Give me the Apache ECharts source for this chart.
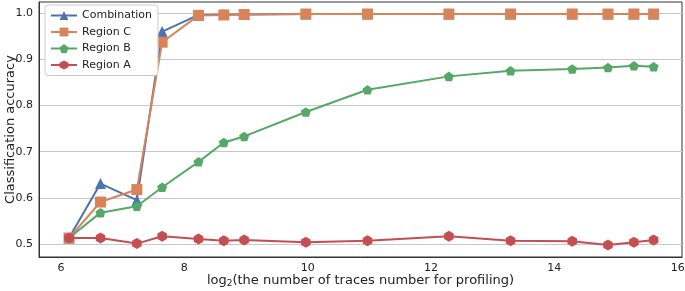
<!DOCTYPE html>
<html>
<head>
<meta charset="utf-8">
<script src="https://cdn.jsdelivr.net/npm/echarts@6/dist/echarts.min.js"></script>
<style>
html,body{margin:0;padding:0;background:#fff;}
#chart{width:685px;height:291px;}
</style>
</head>
<body>
<div id="chart"></div>
<script>
// x = log2(number of traces)
var xs = [6.13, 6.64, 7.23, 7.64, 8.23, 8.64, 8.97, 9.97, 10.97, 12.29, 13.29, 14.29, 14.87, 15.29, 15.61];

var combination = [0.513, 0.631, 0.595, 0.960, 0.996, 0.997, 0.997, 0.998, 0.998, 0.998, 0.998, 0.998, 0.998, 0.998, 0.998];
var regionC     = [0.513, 0.591, 0.618, 0.937, 0.995, 0.996, 0.997, 0.998, 0.998, 0.998, 0.998, 0.998, 0.998, 0.998, 0.998];
var regionB     = [0.513, 0.568, 0.582, 0.623, 0.678, 0.720, 0.733, 0.786, 0.834, 0.863, 0.875, 0.879, 0.882, 0.886, 0.884];
var regionA     = [0.513, 0.513, 0.501, 0.517, 0.511, 0.507, 0.509, 0.504, 0.507, 0.517, 0.507, 0.506, 0.498, 0.504, 0.509];

var xTicks = [6, 8, 10, 12, 14, 16];
var yTicks = [0.5, 0.6, 0.7, 0.8, 0.9, 1.0];

var pentagon = 'path://M50,0 L97.55,34.55 L79.39,90.45 L20.61,90.45 L2.45,34.55 Z';
var hexagon = 'path://M50,0 L93.3,25 L93.3,75 L50,100 L6.7,75 L6.7,25 Z';

function pairs(ys){ return xs.map(function(x,i){ return [x, ys[i]]; }); }

function mkSeries(name, ys, color, symbol, size, z){
    return {
        name: name,
        type: 'line',
        data: pairs(ys),
        symbol: symbol,
        symbolSize: size,
        symbolKeepAspect: true,
        showSymbol: true,
        z: z,
        lineStyle: {color: color, width: 2},
        itemStyle: {color: color, opacity: 1},
        emphasis: {disabled: true},
        animation: false
    };
}

var myChart = echarts.init(document.getElementById('chart'));

var option = {
    animation: false,
    textStyle: {fontFamily: 'DejaVu Sans'},
    grid: {left: 39, right: 3, top: 2, bottom: 34, show: true, borderColor: '#333', borderWidth: 1,
        outerBoundsMode: 'none', containLabel: false},
    legend: {
        left: 45, top: 5,
        orient: 'vertical',
        itemWidth: 26, itemHeight: 11, itemGap: 5.5,
        padding: [5, 6, 5, 5],
        borderColor: '#ccc', borderWidth: 1, borderRadius: 3,
        backgroundColor: '#fff',
        textStyle: {fontSize: 11, color: '#222', fontFamily: 'DejaVu Sans'},
        data: ['Combination', 'Region C', 'Region B', 'Region A']
    },
    xAxis: {
        type: 'value',
        min: 5.643, max: 16.07,
        axisLine: {show: true, onZero: false, lineStyle: {color: '#333'}},
        axisTick: {show: false, customValues: xTicks},
        axisLabel: {customValues: xTicks, color: '#222', fontSize: 11, margin: 6},
        splitLine: {show: false},
        name: '{a|log}{s|2}{a|(the number of traces number for profiling)}',
        nameLocation: 'middle',
        nameMoveOverlap: false,
        nameGap: 16,
        nameTextStyle: {
            rich: {
                a: {fontSize: 13, color: '#222', fontFamily: 'DejaVu Sans'},
                s: {fontSize: 9, color: '#222', fontFamily: 'DejaVu Sans', verticalAlign: 'bottom', padding: [6, 0, 0, 0]}
            }
        }
    },
    yAxis: {
        type: 'value',
        min: 0.472, max: 1.024,
        axisLine: {show: true, lineStyle: {color: '#333'}},
        axisTick: {show: false, customValues: yTicks},
        axisLabel: {customValues: yTicks, color: '#222', fontSize: 11, margin: 6,
            formatter: function(v){ return v.toFixed(1); }},
        splitLine: {show: true, lineStyle: {color: '#c8c8c8', width: 1}},
        name: 'Classification accuracy',
        nameLocation: 'middle',
        nameMoveOverlap: false,
        nameGap: 22,
        nameTextStyle: {fontSize: 13, color: '#222', fontFamily: 'DejaVu Sans'}
    },
    series: [
        mkSeries('Combination', combination, '#4C72B0', 'triangle', 11, 2),
        mkSeries('Region C', regionC, '#D98359', 'rect', 11, 3),
        mkSeries('Region B', regionB, '#55A868', pentagon, 10, 4),
        mkSeries('Region A', regionA, '#C44E52', hexagon, 11, 5)
    ]
};

myChart.setOption(option);
</script>
</body>
</html>
